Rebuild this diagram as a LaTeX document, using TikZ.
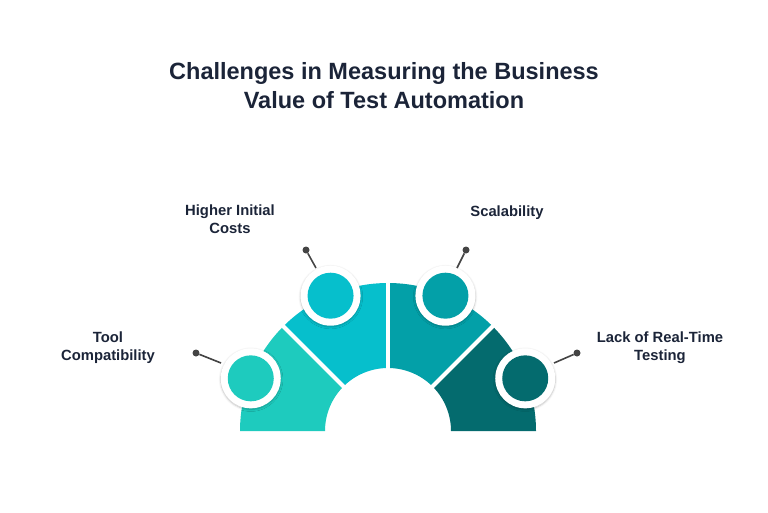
\documentclass[tikz,border=0pt]{standalone}
\usepackage{fontspec}
\setmainfont{Liberation Sans}
\usetikzlibrary{shadows.blur}
\definecolor{cA}{HTML}{1ECBBE}
\definecolor{cB}{HTML}{06BFCC}
\definecolor{cC}{HTML}{03A0A8}
\definecolor{cD}{HTML}{046B6E}
\definecolor{ttl}{HTML}{1B2438}
\definecolor{pin}{HTML}{444444}
\tikzset{
  lbl/.style={font=\fontsize{14.8}{18}\selectfont\bfseries, text=ttl, align=center},
  ring/.style={circle, fill=white, minimum size=60pt, inner sep=0pt, blur shadow={shadow blur steps=6, shadow xshift=0pt, shadow yshift=-1pt, shadow opacity=25}},
  dot/.style={circle, minimum size=46pt, inner sep=0pt},
  pinline/.style={draw=pin, line width=1.6pt},
  pindot/.style={circle, fill=pin, minimum size=7pt, inner sep=0pt}
}
\begin{document}
\begin{tikzpicture}[x=1pt,y=-1pt]
\useasboundingbox (0,0) rectangle (768,512);
\node[font=\fontsize{23.5}{29}\selectfont\bfseries, text=ttl, align=center] (title) at (384,86) {Challenges in Measuring the Business\\Value of Test Automation};
\coordinate (O) at (388,431);
\begin{scope}[shift={(O)}, yscale=-1]
\foreach \a/\b/\c in {180/135/cA,135/90/cB,90/45/cC,45/0/cD}{
  \fill[\c] (\a:148) arc[start angle=\a, end angle=\b, radius=148] -- (\b:63) arc[start angle=\b, end angle=\a, radius=63] -- cycle;
}
\foreach \a in {45,90,135}{
  \draw[white, line width=4pt] (\a:60) -- (\a:152);
}
\foreach \n/\ang/\c in {a/159/cA,b/113/cB,c/67/cC,d/21/cD}{
  \node[ring] (r\n) at (\ang:147) {};
  \node[dot, fill=\c] (d\n) at (r\n) {};
}
\end{scope}
\node[pindot] (pa) at (196,353) {};
\node[pindot] (pb) at (306,250) {};
\node[pindot] (pc) at (466,250) {};
\node[pindot] (pd) at (577,353) {};
\coordinate (ea) at (221,363);
\coordinate (eb) at (316,268);
\coordinate (ec) at (457,268);
\coordinate (ed) at (554,363);
\draw[pinline] (pa) -- (ea);
\draw[pinline] (pb) -- (eb);
\draw[pinline] (pc) -- (ec);
\draw[pinline] (pd) -- (ed);
\node[lbl] (la) at (108,348) {Tool\\Compatibility};
\node[lbl] (lb) at (230,219) {Higher Initial\\Costs};
\node[lbl] (lc) at (507,213) {Scalability};
\node[lbl] (ld) at (660,348) {Lack of Real-Time\\Testing};
\end{tikzpicture}
\end{document}
